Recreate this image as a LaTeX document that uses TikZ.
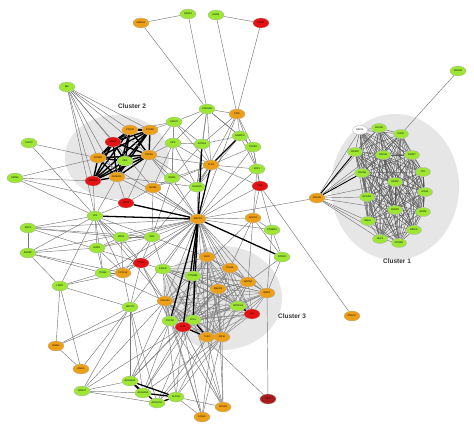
\documentclass[tikz,border=0pt]{standalone}
\usepackage{fontspec}
\setsansfont{Liberation Sans}
\usepackage{tikz}
\usetikzlibrary{shapes.geometric, backgrounds}
\definecolor{geneG}{RGB}{158,230,52}
\definecolor{geneO}{RGB}{236,160,24}
\definecolor{geneR}{RGB}{228,18,18}
\definecolor{geneD}{RGB}{170,28,28}
\definecolor{hull}{RGB}{230,230,230}
\definecolor{edgeC}{RGB}{120,120,120}

\tikzset{
  gene/.style={ellipse, draw=black!30, line width=0.3pt, minimum width=16pt, minimum height=10pt, inner sep=0pt, font=\fontsize{2.4}{3}\selectfont\sffamily},
  gup/.style={gene, fill=geneG},
  gmid/.style={gene, fill=geneO},
  gdown/.style={gene, fill=geneR},
  gdeep/.style={gene, fill=geneD},
  gblank/.style={gene, fill=white},
  link/.style={draw=edgeC, line width=0.45pt},
  strong/.style={draw=black, line width=1.7pt},
  mesh/.style={draw=black!65, line width=0.4pt},
  tag/.style={font=\fontsize{6.5}{7}\selectfont\sffamily\bfseries, text=black!80},
}

\begin{document}
\begin{tikzpicture}[x=1pt, y=-1pt]
  \useasboundingbox (0,0) rectangle (474,431);

  % genes up
  \foreach \n/\x/\y/\t in {g1/188/14/NR4A1, g2/216/15/EGR3, g3/67/87/BIK, g4/207/109/CDKN1B,
      g5/174/122/CDC27, g6/240/136/ANAPC2, g7/173/143/KIF2, g8/202/144/CCNA1, g9/253/147/TGFB2,
      p5/125/161/PBK, g10/29/143/FLRT2, g11/15/178/PRIM1, g12/257/169/E2F1, g13/172/178/RRM2,
      g14/197/187/DLGAP5, g15/95/216/LYN, g16/272/230/PTGER4, g17/28/228/RNF2, g18/121/237/SOX4,
      g19/152/237/SRC, g20/97/248/EGFR, g21/28/253/ANPEP, g22/103/273/ITGB3, g23/60/286/LMO7,
      g24/282/257/NTRK2, m3/163/269/KCNJ2, m4/193/276/CTNNB1, m9/238/306/NOTCH1, m11/170/321/CXCR4,
      m12/193/320/CCL5, g30/130/307/ADCY9, g31/130/381/ALDH1A1, g32/82/391/GPR37, g33/143/393/ALDH3A2,
      g34/157/403/ALDH7A1, g35/176/397/ALDH2, far/458/71/MCM10}
    \node[gup] (\n) at (\x,\y) {\t};
  % cluster 1
  \foreach \n/\x/\y/\t in {k2/379/128/KIF20A, k3/401/134/KIF2C, k4/355/152/CENPF, k5/383/155/NDC80,
      k6/412/155/ZWINT, k7/423/172/TTK, k8/362/173/CDCA8, k9/395/182/HJURP, k10/425/192/KIF4A,
      k11/367/197/NCAPG, k12/395/210/CENPE, k13/423/212/ASPM, k14/368/221/MELK, k15/414/230/BIRC5,
      k16/380/239/NUF2, k17/399/243/CCNB3}
    \node[gup, minimum width=15pt, minimum height=9pt] (\n) at (\x,\y) {\t};
  \node[gblank, minimum width=15pt, minimum height=9pt] (k1) at (360,130) {ORC6L};

  % genes mid
  \foreach \n/\x/\y/\t in {o1/141/23/HMGA2, o2/237/114/PPIC, p1/130/130/CDC20, p2/150/130/CCNB2,
      p4/98/158/CCNB1, p6/149/155/TOP2A, p8/117/177/NUSAP1, o3/153/188/MCM4, o4/211/165/PLK4,
      hub/198/219/MAPK3, o5/253/218/SOCS3, o6/123/273/CXCL12, m1/207/257/FGF2, m2/230/268/ITGA5,
      m5/248/282/WNT5A, m6/218/289/SMAD3, m7/267/293/BMP2, m8/165/301/COL1A1, m14/207/337/TLR4,
      m15/222/337/CD44, o15/56/346/GNAI1, o16/81/369/GNAS, o17/223/407/ACSS2, o18/202/417/ACSL1,
      o19/352/316/ZNF217, c1hub/317/198/CDKN3}
    \node[gmid] (\n) at (\x,\y) {\t};

  % genes down
  \foreach \n/\x/\y/\t in {r1/261/23/FOSB, p3/113/142/BUB1, p7/93/181/AURKA, r2/126/203/CDK1,
      r3/260/186/FOS, r4/141/263/PTGS2, m10/252/314/IL6, m13/183/327/IL1B}
    \node[gdown] (\n) at (\x,\y) {\t};
  \node[gdeep] (dr1) at (268,399) {SCD};

  % cluster names
  \node[tag] (lab1) at (397,261) {Cluster 1};
  \node[tag] (lab2) at (132,106) {Cluster 2};
  \node[tag] (lab3) at (292,316) {Cluster 3};

  \begin{scope}[on background layer]
    \fill[hull] (395,187) ellipse [x radius=64, y radius=73];
    \fill[hull] (117,157) ellipse [x radius=52, y radius=42];
    \fill[hull] (222,298) ellipse [x radius=60, y radius=52];

    % cluster meshes
    \foreach \i in {1,...,17}
      \foreach \j in {1,...,17}
        {\ifnum\i<\j \draw[mesh] (k\i) -- (k\j); \fi}
    \foreach \i in {1,...,8}
      \foreach \j in {1,...,8}
        {\ifnum\i<\j \draw[strong, line width=1.4pt] (p\i) -- (p\j); \fi}
    \foreach \i in {1,...,15}
      \foreach \j in {1,...,15}
        {\ifnum\i<\j \draw[link, line width=0.35pt] (m\i) -- (m\j); \fi}

    \foreach \a/\b in {o1/g1, o1/g4, g1/g4, g2/o2, g2/r1, r1/o2,
        g3/p1, g3/p2, g3/p3, g3/p4, g3/p7, g3/p8, g3/p6, g3/o3, g3/g15,
        g10/p4, g10/g15, g11/p4, g11/g15, g11/p7,
        g4/o2, g4/g8, g4/g7, g4/o4, g4/g6, g4/g14, g4/g9, g4/g5,
        o2/g6, o2/g9, o2/g8, o2/g14, o2/g12, o2/hub,
        g5/p2, g5/g7, g5/g8, g5/o4, g5/g13, g5/p6, g5/p1,
        g6/g12, g6/g8, g6/g14, g7/g8, g7/o4, g7/g13, g7/p6, g7/g14, g7/o3,
        g8/o4, g8/g14, g8/g13, g9/g12, g9/r3, g9/o4, g9/hub,
        o4/g13, o4/g14, o4/g12, o4/r3, o4/g19, o4/o3, o4/p6,
        g12/r3, g12/o5, g12/hub, r3/o5, r3/hub, r3/o19, r3/g16,
        g13/hub, g13/p6, g13/g19, g13/o3, g14/hub, g14/p6, g14/p8,
        p6/hub, p8/hub, o3/hub, o3/g19, p8/r2, p6/r2, o3/r2, p7/g15, p8/g15,
        hub/o3, hub/g18, hub/g19, hub/g20, hub/g21, hub/r4, hub/o6, hub/g22, hub/o5,
        hub/g17, hub/m1, hub/m2, hub/m3, hub/m6, hub/m5, hub/g16, hub/m8, hub/m15,
        hub/m14, hub/c1hub, hub/m10, hub/m9, hub/m7, hub/g30, hub/p4, hub/g11,
        o5/g24, o5/g16, o5/m2, o5/m4, o5/m5, g16/g24, g16/m7, g24/m7, g24/m5,
        g15/r2, g15/g17, g15/g20, g15/g18, g15/g21, g15/g22, g15/g23, g15/g19,
        g15/o6, g15/r4, g15/m8,
        g17/g21, g17/g18, g17/r4, g17/g19, g21/g23, g21/g20, g21/o6, g21/g22,
        g18/g19, g18/r4, g18/o6, g18/g20, g19/g20, g19/o6, g19/r4, g19/m1, g19/m3,
        g20/g22, g20/o6, r4/o6, r4/g22, r4/m8, r4/m3, r4/m11,
        g22/o6, g22/g23, g22/m8, g23/o15, g23/o16, g23/g30, g23/o6,
        g30/o15, g30/g31, g30/g32, g30/g33, g30/o6, g30/g34, g30/r4,
        o15/o16, o16/g30, o15/m8, g32/g31, g32/g33, g32/g34,
        g31/m8, g31/m11, g31/m13, g33/m11, g33/m13, g33/m12, g34/m12, g34/m14,
        g35/m15, g35/m14, g35/m8, g35/m13, o17/m11, o17/m14, o17/m6, o17/m13,
        o17/m12, o18/m11, o18/m15, o18/m13, o18/m8, o17/m15, o18/m6, g31/m6,
        g33/m15, g34/m15, g32/m8, g32/m13, g35/o17, g35/o18,
        m7/dr1, m8/dr1,
        c1hub/k1, c1hub/k2, c1hub/k3, c1hub/k5, c1hub/k9, c1hub/k11, c1hub/k12,
        c1hub/k14, c1hub/k16, c1hub/k17, k3/far}
      \draw[link] (\a) -- (\b);

    \foreach \a/\b in {hub/g8, hub/o4, hub/g24, hub/m4, hub/m13, hub/m11, hub/m12,
        g6/o4, hub/g15, hub/r2, g31/g33, g31/g34, g33/g35, g34/g35, g31/g35,
        m11/m13, m12/m13, m13/m14, m12/m14, m9/m10}
      \draw[strong, line width=1.3pt] (\a) -- (\b);
    \foreach \a/\b in {c1hub/k4, c1hub/k8}
      \draw[strong, line width=0.9pt] (\a) -- (\b);
  \end{scope}
\end{tikzpicture}
\end{document}
